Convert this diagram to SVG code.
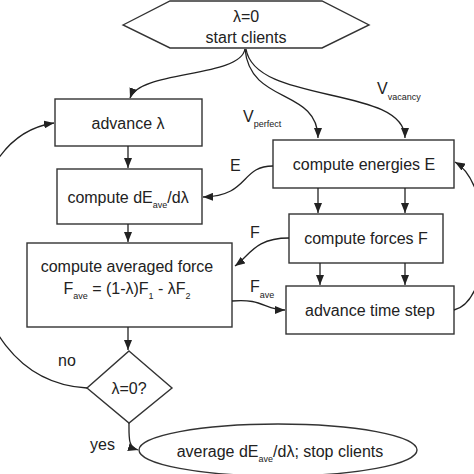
<svg xmlns="http://www.w3.org/2000/svg" width="474" height="474" viewBox="0 0 474 474">
<style>
.box{fill:#fff;stroke:#333;stroke-width:1.4}
.t{font-family:"Liberation Sans",Arial,sans-serif;font-size:16px;fill:#222}
.s{font-size:9px}
.c{fill:none;stroke:#222;stroke-width:1.3}
</style>
<defs>
<marker id="ah" viewBox="0 0 10 8" refX="10" refY="4" markerWidth="10" markerHeight="8" markerUnits="userSpaceOnUse" orient="auto">
<path d="M0,0 L10,4 L0,8 z" fill="#222"/>
</marker>
</defs>
<rect width="474" height="474" fill="#fff"/>

<g id="start">
<polygon class="box" points="123,25 170,1 322,1 369,25 322,48 170,48"/>
<text class="t" x="246" y="22" text-anchor="middle">λ=0</text>
<text class="t" x="246" y="43" text-anchor="middle">start clients</text>
</g>

<g id="advance-lambda">
<rect class="box" x="55" y="99" width="147" height="47"/>
<text class="t" x="128" y="129" text-anchor="middle">advance λ</text>
</g>

<g id="compute-dE">
<rect class="box" x="57" y="169" width="145" height="55"/>
<text class="t" x="128" y="203" text-anchor="middle">compute dE<tspan class="s" dy="5">ave</tspan><tspan dy="-5">/dλ</tspan></text>
</g>

<g id="averaged-force">
<rect class="box" x="27" y="243" width="205" height="84"/>
<text class="t" x="127" y="272" text-anchor="middle">compute averaged force</text>
<text class="t" x="127" y="294" text-anchor="middle">F<tspan class="s" dy="5">ave</tspan><tspan dy="-5"> = (1-λ)F</tspan><tspan class="s" dy="5">1</tspan><tspan dy="-5"> - λF</tspan><tspan class="s" dy="5">2</tspan></text>
</g>

<g id="decision">
<polygon class="box" points="129,351 172,388 129,423 87,388"/>
<text class="t" x="129" y="394" text-anchor="middle">λ=0?</text>
</g>

<g id="finish">
<ellipse class="box" cx="278" cy="450" rx="139" ry="26"/>
<text class="t" x="280" y="457" text-anchor="middle">average dE<tspan class="s" dy="5">ave</tspan><tspan dy="-5">/dλ; stop clients</tspan></text>
</g>

<g id="energies">
<rect class="box" x="273" y="140" width="181" height="48"/>
<text class="t" x="364" y="170" text-anchor="middle">compute energies E</text>
</g>

<g id="forces">
<rect class="box" x="289" y="214" width="154" height="49"/>
<text class="t" x="366" y="244" text-anchor="middle">compute forces F</text>
</g>

<g id="timestep">
<rect class="box" x="286" y="286" width="168" height="48"/>
<text class="t" x="370" y="316" text-anchor="middle">advance time step</text>
</g>

<g id="connectors">
<path class="c" d="M245,49 C240,78 140,70 130,98" marker-end="url(#ah)"/>
<path class="c" d="M245,49 C250,105 318,88 318,138" marker-end="url(#ah)"/>
<path class="c" d="M246,49 C255,105 405,85 405,138" marker-end="url(#ah)"/>
<line class="c" x1="128" y1="146" x2="128" y2="168" marker-end="url(#ah)"/>
<line class="c" x1="128" y1="224" x2="128" y2="242" marker-end="url(#ah)"/>
<line class="c" x1="128" y1="327" x2="128" y2="350" marker-end="url(#ah)"/>
<line class="c" x1="318" y1="188" x2="318" y2="213" marker-end="url(#ah)"/>
<line class="c" x1="405" y1="188" x2="405" y2="213" marker-end="url(#ah)"/>
<line class="c" x1="320" y1="263" x2="320" y2="285" marker-end="url(#ah)"/>
<line class="c" x1="405" y1="263" x2="405" y2="285" marker-end="url(#ah)"/>
<path class="c" d="M273,166 C240,166 250,196 203,197" marker-end="url(#ah)"/>
<path class="c" d="M289,238 C255,238 250,255 235,266" marker-end="url(#ah)"/>
<path class="c" d="M232,301 C262,298 265,310 285,310" marker-end="url(#ah)"/>
<path class="c" d="M454,310 C494,300 494,185 455,162" marker-end="url(#ah)"/>
<path class="c" d="M87,388 C-55,380 -60,140 54,123" marker-end="url(#ah)"/>
<path class="c" d="M129,423 C129,438 128,447 138,450" marker-end="url(#ah)"/>
<text class="t" x="243" y="122">V<tspan class="s" dy="5">perfect</tspan></text>
<text class="t" x="377" y="94">V<tspan class="s" dy="6">vacancy</tspan></text>
<text class="t" x="230" y="171">E</text>
<text class="t" x="250" y="238">F</text>
<text class="t" x="250" y="292">F<tspan class="s" dy="6">ave</tspan></text>
<text class="t" x="58" y="366">no</text>
<text class="t" x="90" y="450">yes</text>
</g>
</svg>
